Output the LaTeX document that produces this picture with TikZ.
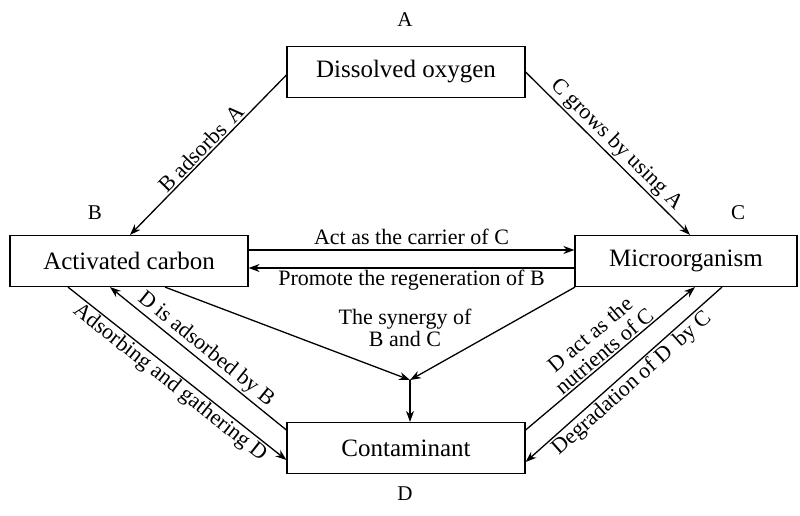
\documentclass[tikz,border=0pt]{standalone}
\usepackage{fontspec}
\setmainfont{Liberation Serif}
\usetikzlibrary{arrows.meta}
\begin{document}
\begin{tikzpicture}[x=1pt,y=-1pt,
  box/.style={draw,line width=1.2pt,minimum width=238pt,minimum height=51pt,font=\fontsize{25}{27}\selectfont,inner sep=0pt},
  ar/.style={draw,line width=1.3pt,-{Stealth[length=11pt,width=8pt]}},
  lab/.style={font=\fontsize{22}{22}\selectfont,inner sep=1.5pt},
  tag/.style={font=\fontsize{21}{22}\selectfont}]
\useasboundingbox (0,0) rectangle (800,516);
\node[box] (do) at (406,72) {Dissolved oxygen};
\node[box] (ac) at (129,261) {Activated carbon};
\node[box,minimum width=222pt] (mo) at (686,261) {Microorganism};
\node[box] (ct) at (406,448) {Contaminant};
\node[tag] (la) at (405,20) {A};
\node[tag] (lb) at (95,213) {B};
\node[tag] (lc) at (738,213) {C};
\node[tag] (ld) at (405,494) {D};
\coordinate (j) at (410,380);
% top
\draw[ar] (do.west |- 0,75) -- node[lab,sloped,above]{B adsorbs\, A} (ac.north -| 130,0);
\draw[ar] (do.east |- 0,72) -- node[lab,sloped,above]{C grows by using A} (mo.north -| 690,0);
% middle
\draw[ar,line width=2pt] (ac.east |- 0,250) -- node[lab,above,inner sep=4pt]{Act as the carrier of C} (mo.west |- 0,250);
\draw[ar] (mo.west |- 0,268) -- node[lab,below]{Promote the regeneration of B} (ac.east |- 0,268);
\draw[ar] (ac.south -| 165,0) -- (j);
\draw[ar] (mo.south -| 575,0) -- (j);
\draw[ar] (j) -- (ct.north -| 410,0);
\node[lab,align=center] (syn) at (405,328) {The synergy of\\B and C};
% lower left
\draw[ar] (ac.south -| 68,0) -- node[lab,sloped,below]{Adsorbing and gathering D} (ct.west |- 0,460);
\draw[ar] (ct.west |- 0,430) -- node[lab,sloped,above]{D is adsorbed by B} (ac.south -| 110,0);
% lower right
\draw[ar] (ct.east |- 0,430) -- node[lab,sloped,above,align=center]{D act as the\\nutrients of C} (mo.south -| 695,0);
\draw[ar] (mo.south -| 722,0) -- node[lab,sloped,below]{Degradation of D\, by C} (ct.east |- 0,462);
\end{tikzpicture}
\end{document}
